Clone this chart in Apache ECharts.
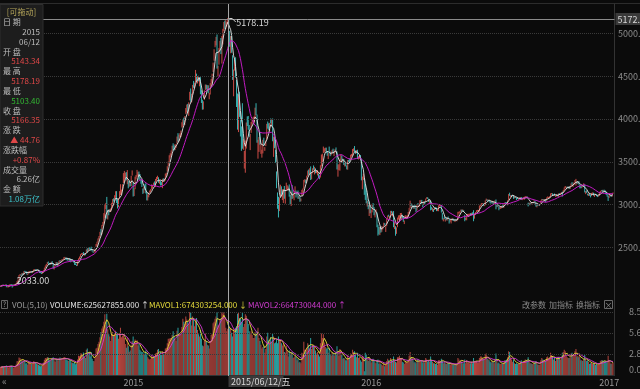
<!DOCTYPE html>
<html><head><meta charset="utf-8">
<script src="https://cdn.jsdelivr.net/npm/echarts/dist/echarts.min.js"></script>
<style>html,body{margin:0;padding:0;background:#0b0b0b;}#c{width:640px;height:389px;}</style>
</head><body><div id="c"></div>
<script>
// rows: [mmdd, open, close, low, high, volume (亿手)]
const bars2014 = [
[701,2048,2050,2044,2054,1.05],[702,2051,2059,2049,2061,1.12],[703,2058,2063,2055,2067,1.18],[704,2062,2059,2055,2066,1.10],[707,2058,2060,2050,2063,1.15],[708,2058,2067,2052,2068,1.08],[709,2067,2039,2037,2069,1.30],[710,2037,2038,2036,2045,1.10],[711,2037,2047,2035,2050,1.02],[714,2047,2067,2045,2069,1.25],[715,2066,2067,2061,2072,1.28],[716,2067,2061,2058,2074,1.30],[717,2060,2056,2033,2066,1.08],[718,2052,2059,2046,2061,1.00],[721,2058,2060,2052,2064,0.98],[722,2060,2075,2058,2076,1.20],[723,2075,2076,2068,2083,1.42],[724,2076,2108,2074,2109,1.85],[725,2107,2127,2101,2128,1.90],[728,2128,2178,2126,2179,2.35],[729,2180,2183,2172,2190,2.30],[730,2183,2181,2171,2187,1.90],[731,2181,2202,2178,2204,2.10],
[801,2197,2185,2177,2200,1.85],[804,2184,2223,2181,2224,1.95],[805,2224,2222,2211,2229,1.90],[806,2220,2217,2208,2222,1.55],[807,2216,2188,2185,2219,1.60],[808,2186,2194,2178,2196,1.40],[811,2195,2222,2194,2223,1.75],[812,2222,2222,2214,2226,1.70],[813,2221,2223,2212,2226,1.65],[814,2222,2214,2208,2226,1.50],[815,2211,2227,2203,2228,1.55],[818,2229,2239,2226,2244,1.85],[819,2239,2245,2232,2248,1.80],[820,2244,2241,2231,2246,1.65],[821,2238,2233,2226,2243,1.50],[822,2231,2241,2226,2242,1.45],[825,2240,2224,2220,2242,1.40],[826,2222,2207,2203,2227,1.30],[827,2208,2204,2201,2215,1.20],[828,2201,2195,2192,2210,1.25],[829,2195,2217,2194,2218,1.35],
[901,2217,2236,2210,2237,1.70],[902,2236,2266,2234,2266,2.05],[903,2264,2289,2262,2291,2.30],[904,2288,2307,2282,2308,2.25],[905,2310,2326,2302,2330,2.45],[909,2326,2319,2310,2337,2.35],[910,2315,2313,2298,2316,2.00],[911,2313,2305,2300,2322,1.95],[912,2304,2332,2302,2333,2.20],[915,2334,2316,2308,2341,2.30],[916,2314,2256,2253,2319,2.40],[917,2250,2291,2244,2292,2.00],[918,2288,2296,2282,2298,1.80],[919,2299,2329,2297,2331,2.20],[922,2326,2290,2285,2330,2.15],[923,2286,2323,2286,2324,1.95],[924,2322,2345,2315,2346,2.30],[925,2347,2340,2335,2354,2.35],[926,2339,2348,2330,2350,2.10],[929,2353,2357,2343,2364,2.25],[930,2358,2364,2352,2366,2.00],
[1008,2369,2383,2362,2387,2.40],[1009,2384,2389,2373,2391,2.45],[1010,2380,2375,2365,2384,2.10],[1013,2374,2366,2352,2380,2.05],[1014,2363,2359,2346,2369,1.95],[1015,2359,2373,2350,2374,1.90],[1016,2368,2357,2344,2378,2.05],[1017,2354,2341,2328,2360,2.00],[1020,2339,2357,2336,2358,1.70],[1021,2357,2340,2337,2363,1.65],[1022,2340,2327,2325,2349,1.60],[1023,2324,2302,2296,2330,1.75],[1024,2303,2302,2296,2316,1.45],[1027,2299,2290,2284,2302,1.50],[1028,2290,2338,2287,2338,2.10],[1029,2339,2373,2337,2374,2.60],[1030,2369,2391,2364,2395,2.55],[1031,2393,2420,2390,2423,2.90],
[1103,2420,2430,2415,2434,2.90],[1104,2428,2431,2417,2436,2.75],[1105,2433,2419,2414,2448,3.05],[1106,2414,2426,2405,2428,2.50],[1107,2425,2418,2410,2432,2.30],[1110,2433,2474,2432,2478,3.40],[1111,2477,2470,2441,2491,3.60],[1112,2463,2494,2456,2495,2.90],[1113,2492,2486,2477,2504,3.10],[1114,2484,2479,2469,2491,2.50],[1117,2509,2474,2470,2510,3.10],[1118,2474,2456,2453,2477,2.20],[1119,2452,2451,2440,2456,1.90],[1120,2447,2453,2441,2459,1.85],[1121,2450,2487,2446,2488,2.40],[1124,2533,2533,2506,2542,3.60],[1125,2528,2568,2517,2568,3.70],[1126,2567,2604,2561,2606,4.20],[1127,2604,2630,2594,2634,4.50],[1128,2631,2683,2620,2683,5.10],
[1201,2682,2680,2645,2718,5.80],[1202,2674,2764,2654,2764,6.30],[1203,2771,2780,2751,2799,6.60],[1204,2786,2899,2779,2902,7.20],[1205,2917,2938,2846,3007,8.20],[1208,2953,3020,2950,3021,7.10],[1209,3040,2856,2837,3091,8.30],[1210,2845,2940,2827,2940,6.20],[1211,2931,2926,2877,2945,5.50],[1212,2932,2938,2911,2948,5.20],[1215,2935,2953,2915,2957,4.60],[1216,2958,3022,2946,3022,5.40],[1217,3011,3061,2980,3066,5.80],[1218,3061,3058,3035,3075,5.30],[1219,3066,3109,3046,3110,5.50],[1222,3115,3127,3081,3157,6.00],[1223,3137,3033,3019,3158,5.80],[1224,3043,2973,2956,3062,5.40],[1225,2976,3073,2970,3073,4.90],[1226,3081,3158,3076,3158,5.60],[1229,3161,3168,3112,3239,6.40],[1230,3157,3166,3116,3176,5.10],[1231,3172,3235,3162,3239,5.30]
];
const bars2015 = [
[105,3258,3351,3253,3369,5.50],[106,3331,3351,3262,3394,5.00],[107,3327,3374,3312,3374,4.20],[108,3372,3293,3285,3380,3.70],[109,3277,3285,3239,3404,5.00],[112,3259,3229,3191,3283,3.90],[113,3224,3235,3209,3260,3.10],[114,3242,3222,3215,3268,3.30],[115,3220,3336,3214,3337,4.00],[116,3343,3377,3340,3400,4.60],[119,3189,3116,3095,3262,5.20],[120,3114,3173,3101,3191,4.20],[121,3189,3324,3181,3327,4.80],[122,3319,3343,3295,3346,4.40],[123,3349,3352,3322,3406,4.70],[126,3363,3383,3338,3384,4.00],[127,3387,3353,3287,3387,4.20],[128,3339,3306,3294,3358,3.40],[129,3283,3262,3244,3297,3.20],[130,3273,3210,3207,3288,3.10],
[202,3148,3128,3125,3189,3.10],[203,3136,3205,3136,3205,2.80],[204,3208,3174,3174,3238,2.90],[205,3243,3137,3131,3250,3.30],[206,3120,3076,3050,3153,2.90],[209,3064,3095,3049,3119,2.40],[210,3096,3142,3086,3142,2.20],[211,3144,3158,3140,3166,2.10],[212,3156,3173,3145,3182,2.20],[213,3195,3204,3177,3237,2.60],[216,3208,3222,3190,3222,2.40],[217,3230,3247,3224,3257,2.50],[225,3256,3229,3218,3272,2.50],[226,3222,3298,3207,3301,2.90],[227,3300,3310,3280,3324,3.00],
[302,3332,3336,3298,3338,3.40],[303,3318,3263,3256,3320,3.50],[304,3265,3280,3244,3289,2.90],[305,3273,3248,3224,3281,3.10],[306,3248,3241,3227,3263,2.70],[309,3225,3302,3193,3302,3.20],[310,3293,3286,3274,3307,2.80],[311,3288,3291,3268,3303,2.70],[312,3288,3349,3282,3363,3.60],[313,3355,3373,3339,3374,3.70],[316,3391,3449,3385,3449,4.30],[317,3462,3503,3450,3504,4.90],[318,3505,3577,3500,3577,4.90],[319,3578,3582,3550,3600,5.00],[320,3590,3617,3574,3633,5.00],[323,3638,3688,3630,3688,5.40],[324,3696,3691,3633,3716,5.90],[325,3682,3661,3633,3693,5.20],[326,3641,3682,3637,3707,4.90],[327,3683,3691,3663,3702,4.60],[330,3710,3787,3710,3795,6.00],[331,3822,3748,3735,3835,6.40],
[401,3748,3810,3742,3817,5.40],[402,3825,3826,3790,3835,5.50],[403,3803,3864,3789,3865,5.40],[407,3900,3961,3900,3962,6.50],[408,3979,3995,3910,4000,7.60],[409,3998,3958,3932,4016,7.20],[410,3943,4034,3929,4034,6.90],[413,4072,4122,4060,4128,7.90],[414,4120,4136,4075,4168,7.50],[415,4140,4084,4071,4176,7.20],[416,4056,4195,4036,4195,6.90],[417,4246,4287,4217,4317,8.52],[420,4322,4217,4201,4356,8.50],[421,4214,4294,4193,4294,6.70],[422,4300,4398,4285,4398,7.90],[423,4416,4415,4364,4444,7.70],[424,4393,4394,4360,4424,6.60],[427,4441,4527,4426,4572,7.40],[428,4519,4476,4434,4529,7.70],[429,4458,4477,4415,4499,6.10],[430,4475,4442,4439,4504,5.50],
[504,4416,4480,4382,4488,5.20],[505,4479,4299,4290,4488,6.10],[506,4303,4229,4187,4335,4.90],[507,4212,4112,4109,4225,4.00],[508,4118,4206,4111,4206,3.90],[511,4232,4334,4223,4334,4.70],[512,4339,4401,4339,4402,5.60],[513,4391,4376,4344,4400,4.60],[514,4364,4378,4339,4395,4.10],[515,4374,4309,4301,4393,4.00],[518,4278,4283,4230,4304,3.60],[519,4287,4418,4285,4418,4.60],[520,4423,4446,4388,4466,5.40],[521,4437,4529,4422,4529,5.60],[522,4549,4658,4549,4658,7.00],[525,4680,4814,4680,4814,7.20],[526,4857,4911,4837,4911,7.60],[527,4917,4942,4859,4958,7.90],[528,4943,4620,4588,4986,8.50],[529,4535,4612,4495,4621,6.70],
[601,4633,4829,4634,4829,6.80],[602,4844,4911,4798,4911,7.50],[603,4924,4910,4757,4945,7.60],[604,4947,4947,4647,4968,8.50],[605,4961,5023,4870,5052,8.30],[608,5045,5132,5027,5132,8.50],[609,5114,5114,5052,5147,7.70],[610,5076,5106,5051,5164,6.40],[611,5101,5122,5078,5136,5.90],[612,5143.34,5166.35,5103.40,5178.19,6.26],[615,5174,5063,5048,5176,6.80],[616,5004,4887,4843,5029,6.30],[617,4890,4968,4767,4968,6.40],[618,4943,4785,4773,4966,5.70],[619,4690,4478,4456,4744,5.20],[623,4471,4576,4265,4577,6.20],[624,4604,4690,4565,4691,5.90],[625,4711,4528,4483,4720,6.40],[626,4400,4193,4140,4456,6.60],[629,4289,4053,3876,4297,8.30],[630,4006,4277,3847,4287,8.40],
[701,4214,4054,4024,4318,7.70],[702,4058,3913,3796,4080,7.60],[703,3793,3687,3629,3913,7.10],[706,4133,3776,3653,4184,8.50],[707,3654,3727,3640,3765,6.50],[708,3467,3507,3421,3627,6.90],[709,3432,3709,3373,3749,8.20],[710,3704,3878,3655,3959,8.00],[713,3976,3970,3918,4030,7.60],[714,3968,3924,3874,4035,6.90],[715,3858,3806,3791,3930,5.90],[716,3754,3823,3637,3826,5.50],[717,3838,3957,3838,3965,5.90],[720,3971,3992,3939,4000,5.40],[721,3989,4018,3962,4022,5.00],[722,3999,4026,3960,4032,5.00],[723,4028,4124,4007,4132,5.80],[724,4110,4071,4046,4184,5.60],[727,4005,3726,3723,4052,6.00],[728,3573,3663,3537,3757,6.40],[729,3680,3789,3616,3789,5.00],[730,3778,3706,3700,3851,4.60],[731,3647,3664,3593,3713,4.10],
[803,3614,3623,3549,3641,3.60],[804,3626,3757,3598,3757,3.80],[805,3741,3695,3691,3782,3.90],[806,3634,3662,3628,3672,3.00],[807,3683,3744,3683,3748,3.50],[810,3768,3928,3758,3943,5.20],[811,3939,3928,3887,3970,5.70],[812,3900,3886,3873,3950,4.70],[813,3855,3955,3855,3955,4.50],[814,3978,3965,3949,4006,5.10],[817,3948,3994,3916,3994,4.50],[818,3986,3748,3740,4006,5.60],[819,3666,3794,3558,3795,5.20],[820,3755,3664,3659,3790,4.30],[821,3609,3508,3490,3640,4.40],[824,3373,3210,3192,3388,4.80],[825,3004,2965,2952,3143,4.30],[826,3025,2927,2851,3092,5.20],[827,2978,3084,2925,3084,4.80],[828,3125,3232,3100,3233,4.70],[831,3214,3206,3109,3214,4.30],
[901,3157,3167,3054,3180,4.00],[902,3028,3160,3020,3181,4.20],[907,3149,3080,3069,3218,3.10],[908,3055,3170,3012,3174,3.00],[909,3190,3243,3171,3257,4.00],[910,3190,3198,3171,3226,3.20],[911,3189,3200,3163,3213,2.50],[914,3236,3115,3094,3236,3.30],[915,3063,3005,3000,3114,2.90],[916,3003,3152,2984,3152,3.10],[917,3160,3086,3067,3229,3.10],[918,3090,3098,3075,3122,2.30],[921,3062,3157,3052,3157,2.40],[922,3154,3186,3148,3214,2.80],[923,3120,3116,3084,3164,2.50],[924,3132,3143,3110,3150,2.00],[925,3146,3092,3069,3165,2.20],[928,3080,3101,3067,3102,1.70],[929,3079,3038,3034,3093,1.80],[930,3047,3053,3039,3073,1.60],
[1008,3143,3143,3105,3173,3.00],[1009,3131,3183,3131,3189,2.90],[1012,3194,3288,3186,3289,4.50],[1013,3266,3293,3260,3298,3.40],[1014,3266,3262,3251,3292,3.20],[1015,3259,3338,3259,3338,3.60],[1016,3353,3391,3333,3398,4.30],[1019,3397,3387,3350,3410,4.10],[1020,3375,3425,3355,3425,3.60],[1021,3432,3321,3288,3447,5.00],[1022,3302,3369,3296,3369,3.50],[1023,3390,3412,3367,3425,4.10],[1026,3448,3430,3407,3458,4.00],[1027,3401,3434,3353,3441,3.90],[1028,3415,3375,3367,3424,3.30],[1029,3371,3387,3368,3400,2.90],[1030,3376,3383,3342,3403,3.10],
[1102,3342,3325,3311,3358,2.80],[1103,3323,3317,3297,3341,2.50],[1104,3317,3460,3317,3460,4.30],[1105,3477,3523,3445,3585,5.60],[1106,3514,3590,3498,3596,5.00],[1109,3619,3647,3603,3678,5.50],[1110,3627,3640,3609,3658,4.40],[1111,3641,3650,3622,3665,3.80],[1112,3659,3633,3607,3666,3.60],[1113,3603,3581,3571,3624,3.70],[1116,3547,3607,3532,3607,3.00],[1117,3634,3605,3600,3678,3.70],[1118,3610,3568,3566,3620,2.70],[1119,3576,3617,3576,3618,2.60],[1120,3620,3631,3602,3641,3.10],[1123,3627,3610,3598,3654,2.90],[1124,3604,3616,3566,3622,2.60],[1125,3614,3648,3609,3648,3.00],[1126,3659,3636,3630,3668,3.10],[1127,3616,3436,3411,3621,3.90],[1130,3433,3445,3327,3470,3.20],
[1201,3442,3456,3403,3471,2.60],[1202,3450,3537,3397,3538,3.50],[1203,3525,3585,3507,3589,3.30],[1204,3558,3525,3515,3574,2.70],[1207,3519,3537,3497,3539,2.20],[1208,3518,3470,3464,3533,2.30],[1209,3460,3472,3446,3500,2.20],[1210,3470,3456,3448,3492,2.00],[1211,3441,3435,3412,3457,2.00],[1214,3408,3521,3408,3521,2.70],[1215,3510,3510,3487,3523,2.30],[1216,3522,3516,3503,3540,2.30],[1217,3526,3580,3520,3583,2.90],[1218,3578,3579,3560,3593,2.80],[1221,3574,3642,3572,3650,3.40],[1222,3632,3652,3621,3658,3.10],[1223,3652,3636,3620,3684,3.20],[1224,3617,3612,3594,3634,2.70],[1225,3607,3628,3600,3636,2.40],[1228,3631,3534,3533,3641,3.00],[1229,3528,3564,3527,3566,2.30],[1230,3567,3573,3536,3573,2.40],[1231,3570,3539,3538,3580,2.00]
];
const bars2016 = [
[104,3536,3296,3284,3539,1.80],[105,3196,3288,3180,3328,2.60],[106,3291,3362,3289,3362,2.50],[107,3309,3125,3115,3309,0.50],[108,3194,3186,3056,3236,3.00],[111,3131,3017,3016,3167,2.70],[112,3023,3023,2978,3045,2.10],[113,3050,2950,2947,3068,1.90],[114,2868,3008,2868,3011,2.30],[115,2988,2901,2900,3006,2.00],[118,2842,2914,2844,2937,1.70],[119,2915,3008,2910,3008,2.00],[120,2986,2977,2960,3018,2.20],[121,2934,2880,2877,2971,1.90],[122,2890,2917,2852,2918,1.70],[125,2922,2939,2915,2946,1.60],[126,2901,2750,2737,2910,2.00],[127,2750,2736,2639,2768,2.10],[128,2700,2656,2653,2740,1.50],[129,2662,2738,2645,2739,2.00],
[201,2730,2689,2674,2746,1.50],[202,2688,2750,2684,2750,1.40],[203,2722,2739,2711,2743,1.30],[204,2749,2781,2745,2790,1.60],[205,2783,2763,2761,2785,1.20],[215,2701,2746,2682,2748,1.40],[216,2749,2837,2749,2837,1.90],[217,2844,2867,2833,2875,2.20],[218,2868,2863,2860,2883,2.00],[219,2855,2860,2844,2868,1.60],[222,2868,2927,2868,2928,2.30],[223,2926,2903,2896,2928,2.00],[224,2897,2919,2864,2919,1.90],[225,2913,2741,2737,2926,2.50],[226,2734,2767,2715,2796,1.90],[229,2747,2688,2638,2749,1.80],
[301,2685,2733,2660,2735,1.70],[302,2739,2850,2737,2850,2.40],[303,2842,2860,2826,2875,2.40],[304,2844,2874,2810,2878,2.60],[307,2871,2897,2855,2903,2.30],[308,2889,2901,2824,2904,2.20],[309,2878,2863,2837,2883,1.80],[310,2857,2805,2801,2862,1.70],[311,2781,2810,2774,2815,1.50],[314,2838,2860,2836,2878,1.90],[315,2846,2864,2835,2871,1.70],[316,2861,2870,2844,2877,1.70],[317,2864,2905,2863,2914,2.10],[318,2906,2955,2901,2963,2.60],[321,2963,3019,2961,3047,3.10],[322,3004,2999,2982,3015,2.40],[323,2998,3010,2969,3010,2.30],[324,2987,2961,2956,2996,2.00],[325,2959,2979,2950,2982,1.70],[328,2987,2958,2955,2999,1.80],[329,2953,2920,2914,2962,1.60],[330,2934,3001,2931,3002,2.00],[331,3010,3004,2998,3018,2.10],
[401,2999,3010,2972,3010,1.90],[405,2990,3053,2986,3053,2.00],[406,3044,3051,3030,3056,1.90],[407,3047,3008,3006,3056,1.90],[408,2990,2985,2969,3009,1.70],[411,2998,3034,2996,3041,1.90],[412,3029,3024,3000,3037,1.70],[413,3037,3067,3037,3072,2.30],[414,3073,3082,3066,3088,2.10],[415,3080,3078,3067,3087,1.80],[418,3053,3034,3030,3070,1.90],[419,3036,3043,3014,3052,1.80],[420,3045,2973,2934,3047,2.50],[421,2958,2954,2941,2975,2.00],[422,2932,2959,2920,2962,1.80],[425,2948,2947,2915,2950,1.60],[426,2945,2965,2938,2965,1.60],[427,2964,2954,2947,2971,1.50],[428,2953,2946,2925,2966,1.50],[429,2935,2938,2925,2947,1.40],
[503,2938,2993,2924,2993,2.00],[504,2989,2991,2978,3000,2.00],[505,2988,2998,2981,3004,1.80],[506,2994,2913,2908,2998,2.20],[509,2896,2832,2826,2905,1.90],[510,2822,2833,2806,2841,1.60],[511,2844,2837,2831,2863,1.70],[512,2824,2836,2803,2840,1.60],[513,2834,2827,2818,2846,1.50],[516,2821,2851,2815,2853,1.60],[517,2850,2844,2834,2862,1.60],[518,2828,2808,2780,2830,1.60],[519,2805,2807,2801,2821,1.40],[520,2796,2825,2781,2826,1.50],[523,2825,2844,2819,2846,1.60],[524,2838,2822,2817,2840,1.40],[525,2824,2815,2808,2828,1.35],[526,2812,2822,2797,2825,1.40],[527,2822,2821,2814,2831,1.35],[530,2816,2822,2807,2826,1.40],[531,2825,2917,2823,2917,2.30],
[601,2908,2914,2896,2918,2.10],[602,2903,2925,2895,2925,1.80],[603,2921,2939,2920,2943,2.00],[606,2937,2934,2920,2943,1.80],[607,2935,2936,2930,2944,1.60],[608,2931,2927,2919,2933,1.60],[613,2877,2833,2807,2883,2.10],[614,2824,2842,2820,2849,1.60],[615,2827,2887,2818,2887,2.00],[616,2870,2873,2858,2893,1.70],[617,2872,2885,2863,2894,1.70],[620,2880,2889,2874,2896,1.60],[621,2891,2879,2876,2902,1.60],[622,2877,2906,2874,2906,1.70],[623,2906,2892,2886,2911,1.60],[624,2900,2854,2807,2935,2.30],[627,2846,2896,2837,2896,1.80],[628,2895,2913,2885,2913,1.80],[629,2914,2932,2910,2935,1.90],[630,2929,2930,2922,2940,1.70],
[701,2929,2932,2921,2937,1.70],[704,2924,2989,2920,2990,2.30],[705,2987,3006,2978,3007,2.50],[706,3000,3017,2990,3018,2.50],[707,3013,3017,3002,3019,2.30],[708,3011,2988,2984,3012,2.10],[711,2992,2995,2983,3015,2.10],[712,2996,3049,2993,3049,2.80],[713,3049,3061,3044,3071,2.90],[714,3056,3054,3043,3061,2.20],[715,3053,3054,3045,3062,2.10],[718,3047,3044,3034,3056,2.00],[719,3039,3028,3017,3043,1.80],[720,3026,3022,3013,3031,1.70],[721,3021,3039,3018,3046,1.90],[722,3037,3013,3001,3040,1.80],[725,3009,3016,2997,3022,1.60],[726,3010,3050,3001,3050,2.20],[727,3052,2992,2946,3061,2.90],[728,2981,2994,2971,3000,2.00],[729,2993,2979,2976,2997,1.60],
[801,2974,2953,2935,2978,1.70],[802,2951,2971,2950,2971,1.50],[803,2960,2978,2950,2980,1.50],[804,2971,2982,2963,2987,1.50],[805,2987,2977,2970,2995,1.50],[808,2971,3004,2963,3004,1.70],[809,3003,3026,3001,3026,2.00],[810,3024,3019,3015,3031,2.00],[811,3012,3003,2995,3028,2.10],[812,2998,3051,2993,3051,2.40],[815,3053,3125,3053,3125,3.20],[816,3124,3110,3103,3140,3.10],[817,3102,3109,3089,3110,2.40],[818,3104,3104,3095,3113,2.10],[819,3104,3108,3099,3115,1.80],[822,3107,3085,3068,3108,2.10],[823,3079,3090,3074,3092,1.60],[824,3091,3086,3079,3091,1.50],[825,3078,3068,3054,3079,1.60],[826,3071,3070,3066,3081,1.50],[829,3061,3070,3058,3072,1.50],[830,3068,3075,3066,3081,1.60],[831,3074,3085,3066,3086,1.80],
[901,3083,3063,3056,3090,2.00],[902,3058,3067,3053,3070,1.70],[905,3066,3072,3063,3083,1.70],[906,3070,3091,3057,3091,1.90],[907,3089,3092,3083,3100,2.10],[908,3091,3096,3087,3099,1.90],[909,3093,3079,3077,3096,1.90],[912,3022,2995,2980,3023,2.40],[913,3006,3024,2995,3025,1.80],[914,3014,3003,2994,3019,1.60],[919,3003,3026,3002,3028,1.60],[920,3025,3023,3017,3027,1.50],[921,3019,3026,3018,3031,1.50],[922,3040,3042,3036,3050,1.70],[923,3043,3034,3030,3046,1.70],[926,3023,2980,2977,3023,1.90],[927,2980,2998,2969,2998,1.70],[928,2998,2988,2986,3000,1.40],[929,2996,2998,2993,3006,1.40],[930,2996,3005,2996,3007,1.40],
[1010,3017,3048,3017,3048,2.00],[1011,3052,3065,3044,3067,2.30],[1012,3060,3059,3052,3066,2.10],[1013,3052,3061,3047,3065,2.00],[1014,3060,3064,3037,3066,2.00],[1017,3062,3041,3031,3064,1.90],[1018,3046,3084,3045,3084,2.40],[1019,3084,3085,3079,3096,2.50],[1020,3081,3084,3078,3090,2.10],[1021,3082,3091,3077,3099,2.30],[1024,3090,3128,3090,3132,3.00],[1025,3129,3132,3120,3136,2.70],[1026,3129,3116,3100,3132,2.50],[1027,3110,3112,3101,3114,2.10],[1028,3112,3104,3102,3130,2.40],[1031,3097,3100,3091,3107,1.90],
[1101,3100,3122,3096,3123,2.30],[1102,3115,3103,3098,3120,2.20],[1103,3094,3129,3092,3131,2.40],[1104,3130,3125,3115,3134,2.40],[1107,3118,3133,3112,3134,2.10],[1108,3135,3148,3127,3148,2.40],[1109,3143,3128,3095,3152,3.00],[1110,3137,3171,3137,3172,3.10],[1111,3170,3196,3165,3201,3.40],[1114,3199,3210,3193,3218,3.20],[1115,3203,3207,3186,3208,2.60],[1116,3205,3205,3192,3212,2.40],[1117,3200,3208,3190,3211,2.30],[1118,3211,3193,3184,3214,2.30],[1121,3190,3218,3184,3219,2.40],[1122,3215,3248,3213,3248,2.90],[1123,3249,3242,3232,3263,3.00],[1124,3240,3241,3205,3247,2.80],[1125,3236,3262,3228,3262,2.80],[1128,3268,3277,3260,3288,3.20],[1129,3279,3283,3224,3301,3.50],[1130,3271,3250,3245,3271,2.50],
[1201,3250,3273,3244,3274,2.60],[1202,3269,3244,3235,3276,2.40],[1205,3205,3205,3190,3236,2.70],[1206,3205,3200,3192,3217,2.00],[1207,3195,3222,3193,3222,2.00],[1208,3218,3215,3210,3228,1.90],[1209,3214,3233,3206,3250,2.20],[1212,3227,3153,3143,3237,2.70],[1213,3135,3155,3123,3159,2.10],[1214,3155,3141,3136,3167,1.90],[1215,3119,3118,3109,3130,2.00],[1216,3114,3123,3101,3130,1.80],[1219,3120,3118,3104,3130,1.50],[1220,3114,3103,3085,3116,1.60],[1221,3103,3137,3102,3138,1.70],[1222,3137,3140,3127,3143,1.50],[1223,3137,3110,3106,3140,1.60],[1226,3099,3123,3091,3123,1.60],[1227,3124,3115,3113,3128,1.40],[1228,3114,3102,3100,3120,1.50],[1229,3096,3096,3089,3108,1.40],[1230,3097,3104,3094,3107,1.40]
];
const bars2017 = [
[103,3105,3136,3105,3136,1.50],[104,3133,3159,3130,3160,1.90],[105,3157,3165,3154,3171,2.00],[106,3164,3154,3149,3173,2.00],[109,3154,3171,3147,3173,1.80],[110,3166,3162,3157,3175,1.90],[111,3161,3137,3136,3164,1.90],[112,3133,3119,3114,3150,1.70],[113,3119,3113,3094,3129,1.80],[116,3103,3103,3044,3104,2.60],[117,3096,3109,3079,3110,1.90],[118,3103,3113,3102,3122,1.70],[119,3106,3101,3090,3114,1.50],[120,3098,3123,3092,3125,1.60],[123,3128,3137,3127,3143,1.70]
];
const priceTicks = [2500, 3000, 3500, 4000, 4500, 5000];
const volTicks = [0, 2.84, 5.68, 8.52];
const crossDate = '2015/06/12';
const crossPrice = 5172.4;
const crossPriceText = '5172.40';
const weekNames = ['日','一','二','三','四','五','六'];
const volHeader = [
  ['VOL(5,10)', '#9a9a9a'],
  ['VOLUME:625627855.000 \u2191', '#e2e2e2'],
  ['MAVOL1:674303254.000 \u2193', '#e6dc3c'],
  ['MAVOL2:664730044.000 \u2191', '#d23cd2']
];
const volHeaderX = [12, 50, 149, 248];
const volTools = ['改参数', '加指标', '换指标'];
const infoLabels = ['[可拖动]','日 期','2015','06/12','开 盘','5143.34','最 高','5178.19','最 低','5103.40','收 盘','5166.35','涨 跌','\u25b2 44.76','涨跌幅','+0.87%','成交量','6.26亿','金 额','1.08万亿'];
const infoColors = ['#b5a55a','#bdbdbd','#bdbdbd','#bdbdbd','#bdbdbd','#e04848','#bdbdbd','#e04848','#bdbdbd','#33b833','#bdbdbd','#e04848','#bdbdbd','#e04848','#bdbdbd','#e04848','#bdbdbd','#bdbdbd','#bdbdbd','#3cc4cc'];
const infoAlign = ['center','left','right','right','left','right','left','right','left','right','left','right','left','right','left','right','left','right','left','right'];

const FONT = '"Noto Sans CJK SC","Microsoft YaHei",sans-serif';
const UP = '#e0524c', DOWN = '#3ec6c6';
const VUP = '#b4463f', VDOWN = '#2a9f9f';

const dates = [], ohlc = [], closes = [], vols = [], volItems = [];
[[2014, bars2014], [2015, bars2015], [2016, bars2016], [2017, bars2017]].forEach(([y, rows]) => {
  rows.forEach(r => {
    const m = Math.floor(r[0] / 100), d = r[0] % 100;
    dates.push(y + '/' + String(m).padStart(2, '0') + '/' + String(d).padStart(2, '0'));
    ohlc.push([r[1], r[2], r[3], r[4]]);
    closes.push(r[2]);
    vols.push(r[5]);
    volItems.push({ value: r[5], itemStyle: { color: r[2] >= r[1] ? VUP : VDOWN } });
  });
});
function ma(arr, n) {
  return arr.map((_, i) => {
    const s = Math.max(0, i - n + 1); let sum = 0;
    for (let k = s; k <= i; k++) sum += arr[k];
    return +(sum / (i - s + 1)).toFixed(2);
  });
}
const yearStart = new Set();
dates.forEach((d, i) => { if (i > 0 && d.slice(0, 4) !== dates[i - 1].slice(0, 4)) yearStart.add(i); });

const chart = echarts.init(document.getElementById('c'), null, { renderer: 'canvas' });
const dotted = { type: 'dotted', color: '#3a3a3a', width: 1 };
chart.setOption({
  backgroundColor: '#0b0b0b',
  animation: false,
  textStyle: { fontFamily: FONT },
  grid: [
    { left: 0, right: 26.5, top: 5, bottom: 98.6, containLabel: false, outerBoundsMode: 'none' },
    { left: 0, right: 26.5, top: 312, bottom: 14, containLabel: false, outerBoundsMode: 'none' }
  ],
  xAxis: [
    { type: 'category', data: dates, gridIndex: 0, boundaryGap: true, axisLine: { show: false }, axisTick: { show: false }, axisLabel: { show: false }, splitLine: { show: false } },
    { type: 'category', data: dates, gridIndex: 1, boundaryGap: true,
      axisLine: { show: true, lineStyle: { color: '#333' } }, axisTick: { show: false },
      axisLabel: { show: true, color: '#9a9a9a', fontSize: 9, fontFamily: FONT, margin: 3, align: 'left',
        interval: (i) => yearStart.has(i), formatter: (v) => v.slice(0, 4) },
      splitLine: { show: false } }
  ],
  yAxis: [
    { type: 'value', gridIndex: 0, position: 'right', min: 2000, max: 5330, interval: 500, scale: true,
      axisLine: { show: false }, axisTick: { show: false }, splitLine: { show: false },
      axisLabel: { color: '#8c8c8c', fontSize: 9, fontFamily: FONT, margin: 4.5, align: 'left',
        formatter: (v) => priceTicks.includes(v) ? v.toFixed(2) : '' } },
    { type: 'value', gridIndex: 1, position: 'right', min: 0, max: 8.52, interval: 2.84,
      axisLine: { show: false }, axisTick: { show: false }, splitLine: { show: false },
      axisLabel: { color: '#8c8c8c', fontSize: 9, fontFamily: FONT, margin: 15.5, align: 'left',
        formatter: (v) => { const t = volTicks.find(x => Math.abs(x - v) < 0.005); if (t === undefined) return ''; return t === 0 ? '{z|0.00}' : t.toFixed(2); },
        rich: { z: { padding: [0, 0, 10, 0], color: '#8c8c8c', fontSize: 9 } } } }
  ],
  series: [
    { type: 'candlestick', xAxisIndex: 0, yAxisIndex: 0, data: ohlc, barWidth: 0.5,
      itemStyle: { color: UP, color0: DOWN, borderColor: UP, borderColor0: DOWN, borderWidth: 0.9 } },
    { type: 'line', name: 'MA5', xAxisIndex: 0, yAxisIndex: 0, data: ma(closes, 5), symbol: 'none', lineStyle: { color: '#e6e6e6', width: 0.9 }, z: 3 },
    { type: 'line', name: 'MA20', xAxisIndex: 0, yAxisIndex: 0, data: ma(closes, 20), symbol: 'none', lineStyle: { color: '#c21cc2', width: 1 }, z: 3,
      markLine: { silent: true, symbol: ['none', 'none'], label: { show: false }, lineStyle: dotted, data: priceTicks.map(v => ({ yAxis: v })) } },
    { type: 'bar', xAxisIndex: 1, yAxisIndex: 1, data: volItems, barWidth: '100%' },
    { type: 'line', name: 'MAVOL1', xAxisIndex: 1, yAxisIndex: 1, data: ma(vols, 5), symbol: 'none', lineStyle: { color: '#e6dc3c', width: 0.9 }, z: 3 },
    { type: 'line', name: 'MAVOL2', xAxisIndex: 1, yAxisIndex: 1, data: ma(vols, 10), symbol: 'none', lineStyle: { color: '#d23cd2', width: 0.9 }, z: 3,
      markLine: { silent: true, symbol: ['none', 'none'], label: { show: false }, lineStyle: dotted, data: volTicks.filter(v => v > 0).map(v => ({ yAxis: v })) } }
  ]
});

// overlays placed through the chart's own scales
const ci = dates.indexOf(crossDate);
const cx = Math.round(chart.convertToPixel({ xAxisIndex: 0 }, ci)) + 0.5;
const cy = Math.round(chart.convertToPixel({ yAxisIndex: 0 }, crossPrice)) + 0.5;
let hiIdx = 0, loIdx = 0;
ohlc.forEach((r, i) => { if (r[3] > ohlc[hiIdx][3]) hiIdx = i; if (r[2] < ohlc[loIdx][2]) loIdx = i; });
const hp = chart.convertToPixel({ xAxisIndex: 0, yAxisIndex: 0 }, [hiIdx, ohlc[hiIdx][3]]);
const lp = chart.convertToPixel({ xAxisIndex: 0, yAxisIndex: 0 }, [loIdx, ohlc[loIdx][2]]);
const gridRect = chart.getModel().getComponent('grid', 0).coordinateSystem.getRect();
const axisX = Math.round(gridRect.x + gridRect.width) + 0.5;
const dd = dates[ci];
const dlabel = dd + '/' + weekNames[new Date(dd.replace(/\//g, '-') + 'T00:00:00').getDay()];
const g = [];
g.push({ type: 'line', shape: { x1: 0, y1: 3.5, x2: 640, y2: 3.5 }, style: { stroke: '#2c2c2c', lineWidth: 1 }, z: 50 });
g.push({ type: 'line', shape: { x1: axisX, y1: 3.5, x2: axisX, y2: 376 }, style: { stroke: '#333', lineWidth: 1 }, z: 50 });
g.push({ type: 'line', shape: { x1: cx, y1: 4, x2: cx, y2: 376 }, style: { stroke: '#a8a8a8', lineWidth: 1 }, z: 60 });
g.push({ type: 'line', shape: { x1: 0, y1: cy, x2: axisX, y2: cy }, style: { stroke: '#8a8a8a', lineWidth: 1 }, z: 60 });
g.push({ type: 'rect', shape: { x: axisX + 1, y: cy - 6.5, width: 40, height: 12 }, style: { fill: '#3a3a3a' }, z: 61 });
g.push({ type: 'text', x: axisX + 3, y: cy, style: { text: crossPriceText, fill: '#d8d8d8', font: '9px ' + FONT, verticalAlign: 'middle' }, z: 62 });
g.push({ type: 'polyline', shape: { points: [[hp[0] + 1.5, hp[1] + 0.5], [hp[0] + 4.5, hp[1] + 0.5], [hp[0] + 8, hp[1] + 4]] }, style: { stroke: '#cfcfcf', lineWidth: 1, fill: null }, z: 61 });
g.push({ type: 'text', x: hp[0] + 8.5, y: hp[1] + 5, style: { text: ohlc[hiIdx][3].toFixed(2), fill: '#d8d8d8', font: '9px ' + FONT, verticalAlign: 'middle' }, z: 61 });
g.push({ type: 'text', x: lp[0] + 4.5, y: lp[1] - 6.5, style: { text: ohlc[loIdx][2].toFixed(2), fill: '#d8d8d8', font: '9px ' + FONT, verticalAlign: 'middle' }, z: 61 });
g.push({ type: 'rect', shape: { x: cx, y: 376, width: 55, height: 11 }, style: { fill: '#3a3a3a' }, z: 61 });
g.push({ type: 'text', x: cx + 2.5, y: 381.5, style: { text: dlabel, fill: '#d8d8d8', font: '9px ' + FONT, verticalAlign: 'middle' }, z: 62 });
g.push({ type: 'text', x: 2, y: 381.5, style: { text: '\u00ab', fill: '#8a8a8a', font: '10px ' + FONT, verticalAlign: 'middle' }, z: 61 });
// volume header
g.push({ type: 'rect', shape: { x: 1.5, y: 300.5, width: 6, height: 8 }, style: { fill: null, stroke: '#666', lineWidth: 1 }, z: 61 });
g.push({ type: 'text', x: 4.5, y: 304.5, style: { text: '?', fill: '#9a9a9a', font: '7px ' + FONT, align: 'center', verticalAlign: 'middle' }, z: 61 });
volHeader.forEach((h, i) => g.push({ type: 'text', x: volHeaderX[i], y: 304.5, style: { text: h[0], fill: h[1], font: '8px ' + FONT, verticalAlign: 'middle' }, z: 61 }));
volTools.forEach((t, i) => g.push({ type: 'text', x: 522 + i * 27, y: 304.5, style: { text: t, fill: '#8a8a8a', font: '8px ' + FONT, verticalAlign: 'middle' }, z: 61 }));
g.push({ type: 'rect', shape: { x: 604.5, y: 300.5, width: 8, height: 8 }, style: { fill: null, stroke: '#6a6a6a', lineWidth: 1 }, z: 61 });
g.push({ type: 'text', x: 608.5, y: 304.5, style: { text: '\u00d7', fill: '#8a8a8a', font: '8px ' + FONT, align: 'center', verticalAlign: 'middle' }, z: 61 });
// info panel
g.push({ type: 'rect', shape: { x: 0, y: 4.5, width: 43, height: 201.5 }, style: { fill: '#1d1d1d', stroke: '#2e2e2e', lineWidth: 1 }, z: 80 });
infoLabels.forEach((t, i) => {
  const al = infoAlign[i];
  const x = al === 'left' ? 3 : (al === 'right' ? 40 : 21.5);
  g.push({ type: 'text', x: x, y: 12.3 + i * 9.83, style: { text: t, fill: infoColors[i], font: '8px ' + FONT, align: al, verticalAlign: 'middle' }, z: 81 });
});
chart.setOption({ graphic: g });
</script></body></html>
